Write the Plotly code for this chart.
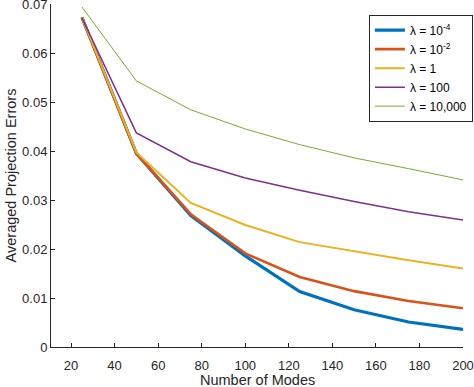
import plotly.graph_objects as go

modes = [25, 50, 75, 100, 125, 150, 175, 200]
err_1e_4 = [0.0673, 0.0395, 0.0268, 0.0186, 0.0113, 0.0076, 0.0051, 0.0036]
err_1e_2 = [0.0673, 0.0395, 0.0271, 0.0191, 0.0143, 0.0114, 0.0094, 0.0079]
err_1 = [0.0673, 0.0397, 0.0294, 0.0249, 0.0214, 0.0195, 0.0177, 0.0160]
err_100 = [0.0672, 0.0437, 0.0378, 0.0345, 0.0320, 0.0297, 0.0276, 0.0259]
err_10000 = [0.0694, 0.0543, 0.0484, 0.0445, 0.0413, 0.0386, 0.0364, 0.0341]

names = ["λ = 10<sup>-4</sup>", "λ = 10<sup>-2</sup>", "λ = 1", "λ = 100", "λ = 10,000"]
series = [err_1e_4, err_1e_2, err_1, err_100, err_10000]
colors = ["#0072BD", "#D95319", "#EDB120", "#7E2F8E", "#77AC30"]
widths = [3.2, 2.6, 2.0, 1.5, 1.0]

fig = go.Figure()
for n, s, c, w in zip(names, series, colors, widths):
    fig.add_trace(go.Scatter(x=modes, y=s, mode="lines", name=n,
                             line=dict(color=c, width=w)))

tick_font = dict(family="Liberation Sans, Arial, sans-serif", size=13, color="#262626")
title_font = dict(family="Liberation Sans, Arial, sans-serif", size=14.5, color="#262626")
fig.update_layout(
    width=474, height=387,
    margin=dict(l=51, r=11, t=4, b=40, autoexpand=False),
    paper_bgcolor="white", plot_bgcolor="white",
    font=tick_font,
    showlegend=True,
    legend=dict(x=1.024, y=0.969, xanchor="right", yanchor="top",
                bgcolor="white", bordercolor="#262626", borderwidth=1,
                font=dict(family="Liberation Sans, Arial, sans-serif", size=12, color="#000000"),
                tracegroupgap=0, itemwidth=30),
    xaxis=dict(range=[10.8, 200], tickmode="array",
               tickvals=[20, 40, 60, 80, 100, 120, 140, 160, 180, 200],
               ticks="inside", ticklen=4, tickcolor="#262626",
               ticklabeloverflow="allow", ticklabelstandoff=6, tickfont=tick_font,
               showline=True, linecolor="#262626", linewidth=1,
               showgrid=False, zeroline=False),
    yaxis=dict(range=[0, 0.07], tickmode="array",
               tickvals=[0, 0.01, 0.02, 0.03, 0.04, 0.05, 0.06, 0.07],
               ticktext=["0", "0.01", "0.02", "0.03", "0.04", "0.05", "0.06", "0.07"],
               ticks="inside", ticklen=4, tickcolor="#262626",
               ticklabeloverflow="allow", tickfont=tick_font,
               showline=True, linecolor="#262626", linewidth=1,
               showgrid=False, zeroline=False,
               title=dict(text="Averaged Projection Errors", standoff=2, font=title_font)),
    annotations=[dict(text="Number of Modes", xref="paper", yref="paper",
                      x=0.5, y=-0.095, xanchor="center", yanchor="middle",
                      showarrow=False, font=title_font)],
)

fig.write_html("out.html", config={"displayModeBar": False},
               post_script="document.body.style.margin='0';")
